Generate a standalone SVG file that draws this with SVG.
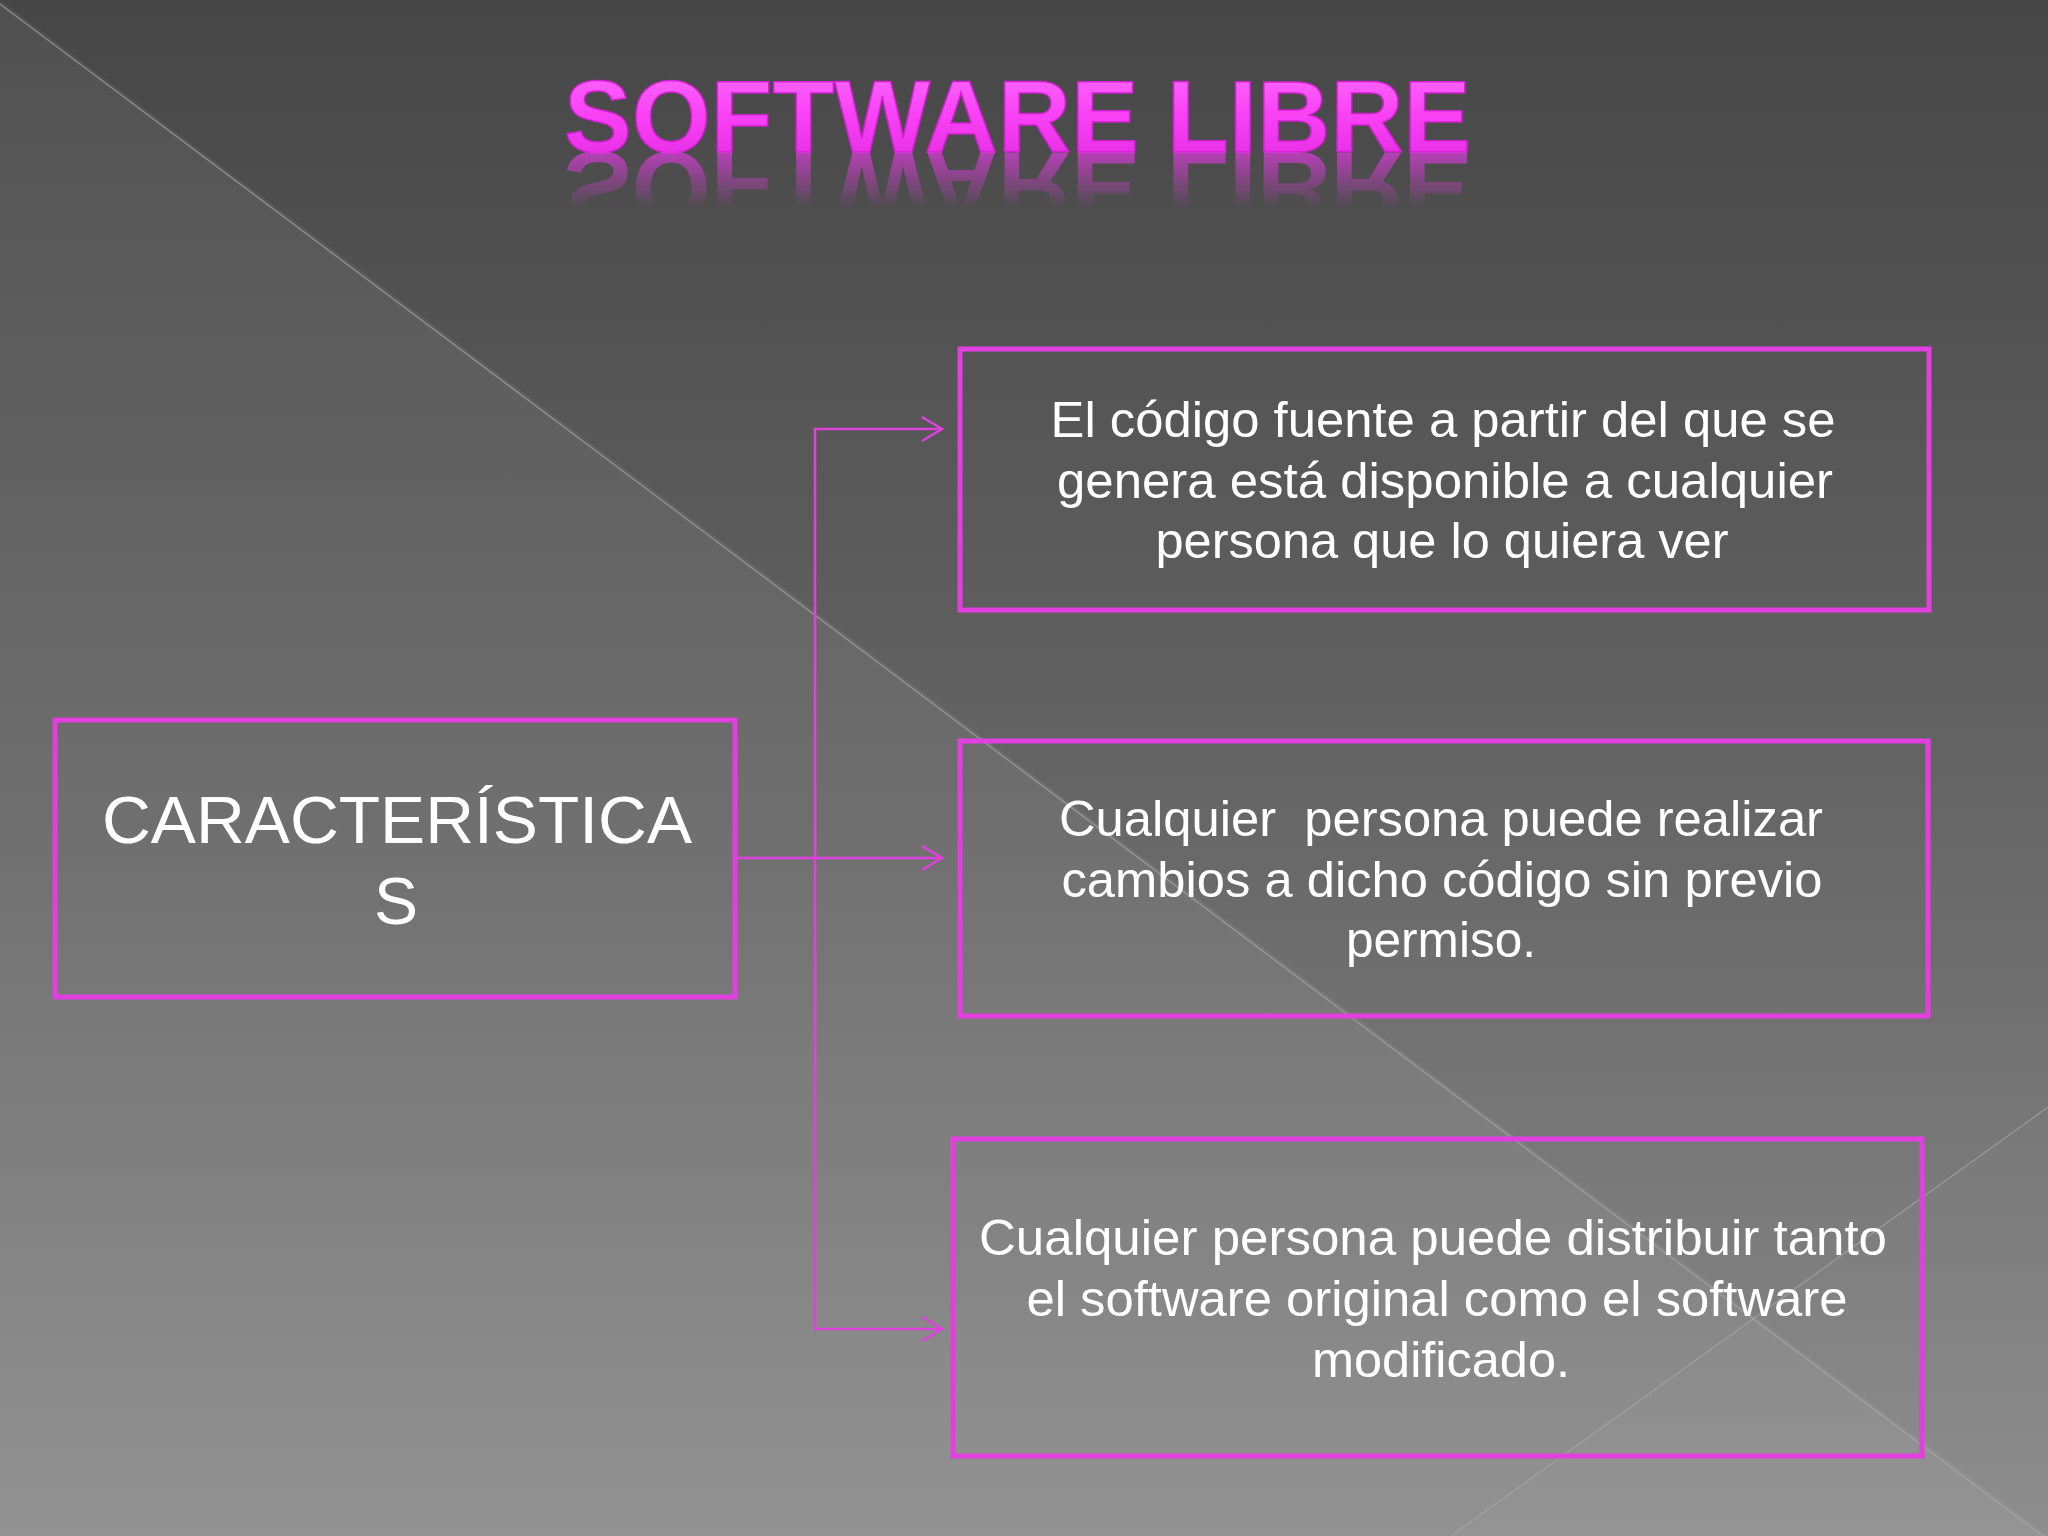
<svg xmlns="http://www.w3.org/2000/svg" width="2048" height="1536" viewBox="0 0 2048 1536">
<style>
.box{fill:none;stroke:#e23ee0;stroke-width:5}
.conn{fill:none;stroke:#e040e0;stroke-width:2.5}
.body{font-family:"Liberation Sans",Arial,sans-serif;font-size:50px;fill:#ffffff;text-anchor:middle}
.big{font-family:"Liberation Sans",Arial,sans-serif;font-size:66px;fill:#ffffff;text-anchor:middle}
.title{font-family:"Liberation Sans",Arial,sans-serif;font-size:102px;font-weight:bold}
.deco{stroke:#a8a8a8;stroke-width:1.5;stroke-opacity:0.6;fill:none}
</style>
<defs>
<linearGradient id="bg" x1="0" y1="0" x2="0" y2="1">
<stop offset="0" stop-color="#464646"/>
<stop offset="0.5" stop-color="#646464"/>
<stop offset="1" stop-color="#8c8c8c"/>
</linearGradient>
<linearGradient id="tfill" x1="0" y1="0" x2="0" y2="1">
<stop offset="0" stop-color="#ff70ff"/>
<stop offset="0.5" stop-color="#f840f4"/>
<stop offset="1" stop-color="#e028e0"/>
</linearGradient>
<linearGradient id="rfade" gradientUnits="userSpaceOnUse" x1="0" y1="152" x2="0" y2="208">
<stop offset="0" stop-color="#ffffff" stop-opacity="0.7"/>
<stop offset="1" stop-color="#ffffff" stop-opacity="0"/>
</linearGradient>
<mask id="rmask" maskUnits="userSpaceOnUse" x="0" y="0" width="2048" height="1536">
<rect x="500" y="152" width="1050" height="80" fill="url(#rfade)"/>
</mask>
</defs>
<g id="background">
<rect x="0" y="0" width="2048" height="1536" fill="url(#bg)"/>
<polygon points="0,0 2048,1536 0,1536" fill="#ffffff" fill-opacity="0.06"/>
<polygon points="2048,1107 2048,1536 1451,1536" fill="#ffffff" fill-opacity="0.02"/>
<line class="deco" x1="0" y1="4" x2="2048" y2="1540"/>
<line class="deco" x1="2048" y1="1107" x2="1451" y2="1536"/>
</g>
<g id="title">
<text class="title" x="564" y="152" textLength="907" lengthAdjust="spacingAndGlyphs" fill="url(#tfill)" stroke="#d020d0" stroke-width="1.5">SOFTWARE LIBRE</text>
<g mask="url(#rmask)">
<text class="title" x="564" y="152" textLength="907" lengthAdjust="spacingAndGlyphs" fill="#e63ae6" transform="translate(0,304) scale(1,-1)">SOFTWARE LIBRE</text>
</g>
</g>
<g id="connectors">
<polyline class="conn" points="942,429 815,429 815,1329 942,1329"/>
<line class="conn" x1="735" y1="858" x2="942" y2="858"/>
<polyline class="conn" points="922,417 942,429 922,441"/>
<polyline class="conn" points="922,846 942,858 922,870"/>
<polyline class="conn" points="922,1317 942,1329 922,1341"/>
</g>
<g id="node-caracteristicas">
<rect class="box" x="55" y="720" width="680" height="277"/>
<text class="big" x="397" y="843" textLength="590" lengthAdjust="spacingAndGlyphs">CARACTERÍSTICA</text>
<text class="big" x="396" y="924">S</text>
</g>
<g id="node-codigo">
<rect class="box" x="960" y="349" width="969" height="261"/>
<text class="body" x="1443" y="437" textLength="785" lengthAdjust="spacingAndGlyphs">El código fuente a partir del que se</text>
<text class="body" x="1445" y="498" textLength="776" lengthAdjust="spacingAndGlyphs">genera está disponible a cualquier</text>
<text class="body" x="1442" y="558" textLength="573" lengthAdjust="spacingAndGlyphs">persona que lo quiera ver</text>
</g>
<g id="node-cambios">
<rect class="box" x="960" y="741" width="968" height="275"/>
<text class="body" x="1441" y="836" textLength="764" lengthAdjust="spacingAndGlyphs" xml:space="preserve">Cualquier  persona puede realizar</text>
<text class="body" x="1442" y="897" textLength="761" lengthAdjust="spacingAndGlyphs">cambios a dicho código sin previo</text>
<text class="body" x="1441" y="957" textLength="190" lengthAdjust="spacingAndGlyphs">permiso.</text>
</g>
<g id="node-distribuir">
<rect class="box" x="953" y="1139" width="969" height="317"/>
<text class="body" x="1433" y="1255" textLength="908" lengthAdjust="spacingAndGlyphs">Cualquier persona puede distribuir tanto</text>
<text class="body" x="1437" y="1316" textLength="821" lengthAdjust="spacingAndGlyphs">el software original como el software</text>
<text class="body" x="1441" y="1377" textLength="258" lengthAdjust="spacingAndGlyphs">modificado.</text>
</g>
</svg>
